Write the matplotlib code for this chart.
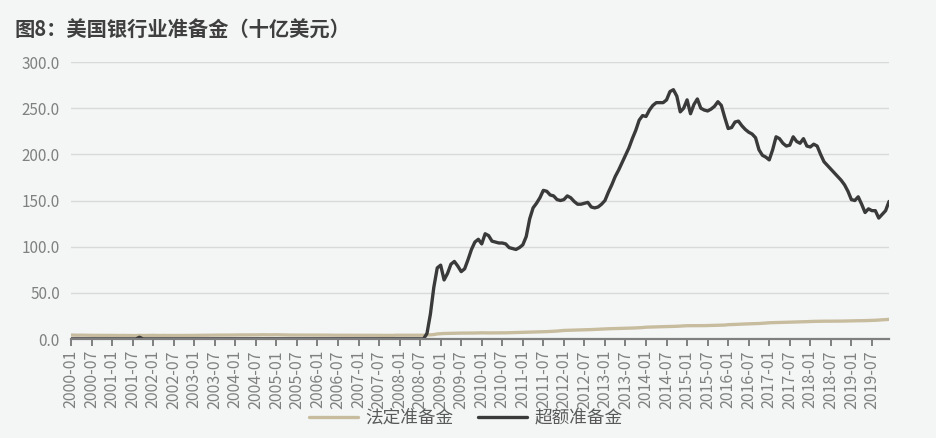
import matplotlib
matplotlib.use("Agg")
import matplotlib.pyplot as plt

plt.rcParams['font.family'] = ['Noto Sans CJK SC', 'DejaVu Sans']

title = "图8：美国银行业准备金（十亿美元）"
series_names = ["法定准备金", "超额准备金"]
years = list(range(2000, 2020))
months = ["%d-%02d" % (y, m) for y in years for m in range(1, 13)]

# 法定准备金 (required reserves), monthly
required = (
    [4.3, 4.2, 4.1, 4.2, 4.1, 4.0, 4.0, 4.0, 3.9, 4.0, 4.0, 4.1] +   # 2000
    [4.1, 3.9, 3.8, 3.9, 3.8, 3.8, 3.8, 3.7, 4.0, 3.8, 3.8, 3.9] +   # 2001
    [4.0, 3.9, 3.8, 3.9, 3.8, 3.8, 3.8, 3.8, 3.8, 3.8, 3.8, 3.9] +   # 2002
    [4.0, 4.0, 4.0, 4.1, 4.1, 4.2, 4.2, 4.2, 4.2, 4.2, 4.2, 4.3] +   # 2003
    [4.4, 4.4, 4.4, 4.5, 4.5, 4.5, 4.5, 4.5, 4.6, 4.5, 4.5, 4.6] +   # 2004
    [4.6, 4.5, 4.4, 4.4, 4.3, 4.3, 4.3, 4.2, 4.2, 4.2, 4.2, 4.3] +   # 2005
    [4.3, 4.2, 4.2, 4.2, 4.1, 4.1, 4.1, 4.1, 4.1, 4.1, 4.1, 4.2] +   # 2006
    [4.2, 4.1, 4.0, 4.0, 4.0, 4.0, 4.0, 3.9, 3.9, 3.9, 3.9, 4.1] +   # 2007
    [4.1, 4.0, 4.0, 4.0, 4.0, 4.0, 4.1, 4.1, 4.4, 4.5, 4.8, 5.5] +   # 2008
    [5.8, 6.0, 6.1, 6.2, 6.3, 6.3, 6.4, 6.4, 6.4, 6.4, 6.5, 6.6] +   # 2009
    [6.7, 6.6, 6.6, 6.6, 6.6, 6.6, 6.7, 6.7, 6.8, 6.8, 7.0, 7.1] +   # 2010
    [7.2, 7.2, 7.3, 7.4, 7.5, 7.7, 7.8, 8.0, 8.2, 8.4, 8.6, 9.0] +   # 2011
    [9.3, 9.4, 9.5, 9.6, 9.7, 9.8, 9.9, 10.0, 10.2, 10.4, 10.6, 10.8] +  # 2012
    [11.0, 11.1, 11.2, 11.3, 11.4, 11.5, 11.6, 11.7, 11.8, 12.0, 12.2, 12.4] +  # 2013
    [12.8, 12.9, 13.0, 13.1, 13.3, 13.4, 13.5, 13.6, 13.7, 13.8, 14.0, 14.2] +  # 2014
    [14.4, 14.4, 14.4, 14.5, 14.5, 14.5, 14.6, 14.6, 14.7, 14.8, 14.9, 15.1] +  # 2015
    [15.5, 15.6, 15.8, 16.0, 16.1, 16.3, 16.4, 16.5, 16.7, 16.8, 17.0, 17.3] +  # 2016
    [17.6, 17.7, 17.8, 17.9, 18.0, 18.1, 18.2, 18.3, 18.4, 18.5, 18.6, 18.8] +  # 2017
    [19.0, 19.1, 19.2, 19.2, 19.3, 19.3, 19.3, 19.3, 19.3, 19.4, 19.5, 19.6] +  # 2018
    [19.7, 19.7, 19.8, 19.8, 19.9, 20.0, 20.1, 20.3, 20.5, 20.8, 21.0, 21.3]    # 2019
)

# 超额准备金 (excess reserves), monthly
excess = (
    [0.13, 0.12, 0.11, 0.12, 0.11, 0.12, 0.11, 0.11, 0.12, 0.11, 0.11, 0.13] +  # 2000
    [0.12, 0.12, 0.12, 0.11, 0.12, 0.12, 0.12, 0.12, 1.9, 0.13, 0.12, 0.13] +   # 2001
    [0.14, 0.13, 0.13, 0.13, 0.13, 0.13, 0.14, 0.13, 0.13, 0.13, 0.14, 0.16] +  # 2002
    [0.14, 0.13, 0.14, 0.14, 0.14, 0.14, 0.15, 0.14, 0.14, 0.14, 0.15, 0.16] +  # 2003
    [0.15, 0.15, 0.14, 0.14, 0.15, 0.14, 0.15, 0.14, 0.14, 0.15, 0.15, 0.17] +  # 2004
    [0.16, 0.16, 0.14, 0.15, 0.15, 0.15, 0.15, 0.15, 0.15, 0.16, 0.15, 0.17] +  # 2005
    [0.17, 0.16, 0.15, 0.16, 0.16, 0.16, 0.17, 0.16, 0.16, 0.16, 0.16, 0.17] +  # 2006
    [0.17, 0.16, 0.16, 0.15, 0.16, 0.17, 0.17, 0.19, 0.16, 0.16, 0.17, 0.18] +  # 2007
    [0.17, 0.17, 0.16, 0.17, 0.17, 0.18, 0.19, 0.19, 6.0, 27, 56, 77] +          # 2008
    [80, 64, 71, 81, 84, 79, 73, 76, 86, 97, 105, 108] +                         # 2009
    [103, 114, 112, 106, 105, 104, 104, 103, 99, 98, 97, 99] +                   # 2010
    [102, 111, 130, 142, 147, 153, 161, 160, 156, 155, 151, 150] +               # 2011
    [151, 155, 153, 149, 146, 146, 147, 148, 143, 142, 143, 146] +               # 2012
    [150, 159, 167, 176, 183, 191, 199, 207, 217, 226, 237, 242] +               # 2013
    [241, 248, 253, 256, 256, 256, 259, 268, 270, 263, 246, 250] +               # 2014
    [259, 244, 254, 260, 250, 248, 247, 249, 252, 257, 253, 240] +               # 2015
    [228, 229, 235, 236, 231, 227, 224, 222, 218, 205, 199, 197] +               # 2016
    [194, 205, 219, 217, 212, 209, 210, 219, 214, 212, 217, 209] +               # 2017
    [208, 211, 209, 200, 192, 188, 184, 180, 176, 172, 167, 160] +               # 2018
    [151, 150, 154, 146, 137, 141, 139, 139, 131, 135, 139, 149]                 # 2019
)

y_ticks = [0, 50, 100, 150, 200, 250, 300]
label_step = 6

bg = "#f4f6f6"
fig = plt.figure(figsize=(9.37, 4.38), dpi=100, facecolor=bg)
ax = fig.add_axes([0.0758, 0.226, 0.8730, 0.6324], facecolor=bg)

x = list(range(len(months)))
ax.plot(x, required, color="#c8bc9f", lw=2.4, label=series_names[0], solid_capstyle="round")
ax.plot(x, excess, color="#3a3a3a", lw=2.4, label=series_names[1], solid_capstyle="round")

ax.set_xlim(0, len(months) - 1)
ax.set_ylim(0, 300)
ax.set_yticks(y_ticks)
ax.set_yticklabels(["%.1f" % v for v in y_ticks])
ax.yaxis.grid(True, color="#d9d9d9", lw=1.0)
ax.set_axisbelow(True)

ax.set_xticks(x[::label_step])
ax.set_xticklabels(months[::label_step], rotation=90)

for s in ["top", "right", "left"]:
    ax.spines[s].set_visible(False)
ax.spines["bottom"].set_color("#7f7f7f")
ax.spines["bottom"].set_linewidth(1.6)
ax.tick_params(axis="y", length=0, pad=8, labelsize=11, labelcolor="#808080")
ax.tick_params(axis="x", direction="out", length=5, width=1.4, color="#7f7f7f",
               pad=3, labelsize=11.5, labelcolor="#808080")

fig.text(0.015, 0.932, title, fontsize=14.6, fontweight="bold", color="#3f3f3f",
         ha="left", va="center")

leg = fig.legend(loc="center", bbox_to_anchor=(0.497, 0.046), ncol=2, frameon=False,
                 fontsize=12.7, handlelength=2.78, columnspacing=1.36, handletextpad=0.45)
for t in leg.get_texts():
    t.set_color("#595959")

fig.savefig("out.png", dpi=100, facecolor=bg)
